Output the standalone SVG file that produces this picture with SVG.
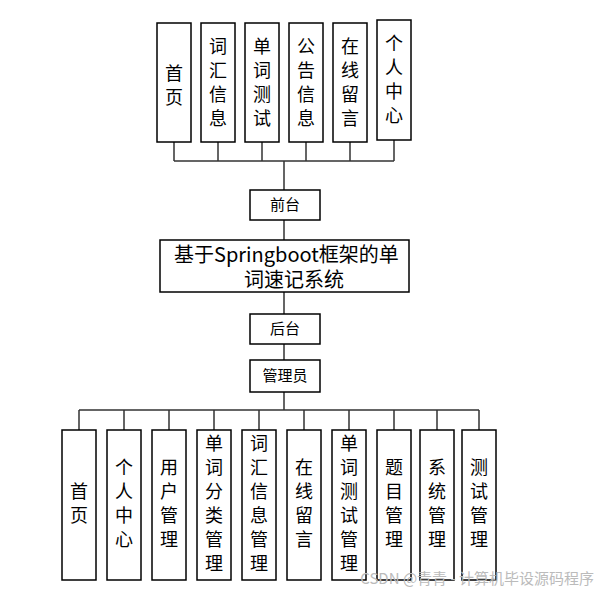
<svg xmlns="http://www.w3.org/2000/svg" width="609" height="596" viewBox="0 0 609 596">
<style>
.b{fill:#fff;stroke:#000;stroke-width:1.5}
.t{font-family:"Noto Sans CJK SC","Liberation Sans",sans-serif;font-size:18px;text-anchor:middle;fill:#000}
.s{font-size:15px}
.c{fill:none;stroke:#333;stroke-width:1.5}
</style>
<rect width="609" height="596" fill="#fff"/>
<g id="connectors" class="c">
<path d="M174 142V161M218 142V161M262 142V161M306 142V161M350 142V161M394 140V161M174 161H394M284 161V190M284 220V240M284 292V314M284 344V360M284 392V410M79 410H479"/>
<path d="M79 410V430M124 410V430M169 410V430M214 410V430M259 410V430M304 410V430M349 410V430M394 410V430M437 410V430M479 410V430"/>
</g>
<g id="n1"><rect class="b" x="157" y="23" width="34" height="119"/><text class="t"><tspan x="174" y="80">首</tspan><tspan x="174" y="104">页</tspan></text></g>
<g id="n2"><rect class="b" x="201" y="23" width="34" height="119"/><text class="t"><tspan x="218" y="53">词</tspan><tspan x="218" y="77">汇</tspan><tspan x="218" y="101">信</tspan><tspan x="218" y="125">息</tspan></text></g>
<g id="n3"><rect class="b" x="245" y="23" width="34" height="119"/><text class="t"><tspan x="262" y="53">单</tspan><tspan x="262" y="77">词</tspan><tspan x="262" y="101">测</tspan><tspan x="262" y="125">试</tspan></text></g>
<g id="n4"><rect class="b" x="289" y="23" width="34" height="119"/><text class="t"><tspan x="306" y="53">公</tspan><tspan x="306" y="77">告</tspan><tspan x="306" y="101">信</tspan><tspan x="306" y="125">息</tspan></text></g>
<g id="n5"><rect class="b" x="333" y="23" width="34" height="119"/><text class="t"><tspan x="350" y="53">在</tspan><tspan x="350" y="77">线</tspan><tspan x="350" y="101">留</tspan><tspan x="350" y="125">言</tspan></text></g>
<g id="n6"><rect class="b" x="377" y="20" width="34" height="120"/><text class="t"><tspan x="394" y="50">个</tspan><tspan x="394" y="74">人</tspan><tspan x="394" y="98">中</tspan><tspan x="394" y="122">心</tspan></text></g>
<g id="qiantai"><rect class="b" x="250" y="190" width="70" height="30"/><text class="t s" x="285" y="210">前台</text></g>
<g id="main"><rect class="b" x="160" y="240" width="249" height="52"/><text class="t" style="font-size:20px;text-anchor:start"><tspan x="174" y="262">基于Springboot框架的单</tspan><tspan x="244" y="287">词速记系统</tspan></text></g>
<g id="houtai"><rect class="b" x="250" y="314" width="70" height="30"/><text class="t s" x="285" y="334">后台</text></g>
<g id="admin"><rect class="b" x="250" y="360" width="70" height="32"/><text class="t s" x="285" y="381">管理员</text></g>
<g id="m1"><rect class="b" x="62" y="430" width="34" height="150"/><text class="t"><tspan x="79" y="498">首</tspan><tspan x="79" y="522">页</tspan></text></g>
<g id="m2"><rect class="b" x="107" y="430" width="34" height="150"/><text class="t"><tspan x="124" y="474">个</tspan><tspan x="124" y="498">人</tspan><tspan x="124" y="522">中</tspan><tspan x="124" y="546">心</tspan></text></g>
<g id="m3"><rect class="b" x="152" y="430" width="34" height="150"/><text class="t"><tspan x="169" y="474">用</tspan><tspan x="169" y="498">户</tspan><tspan x="169" y="522">管</tspan><tspan x="169" y="546">理</tspan></text></g>
<g id="m4"><rect class="b" x="197" y="430" width="34" height="150"/><text class="t"><tspan x="214" y="450">单</tspan><tspan x="214" y="474">词</tspan><tspan x="214" y="498">分</tspan><tspan x="214" y="522">类</tspan><tspan x="214" y="546">管</tspan><tspan x="214" y="570">理</tspan></text></g>
<g id="m5"><rect class="b" x="242" y="430" width="34" height="150"/><text class="t"><tspan x="259" y="450">词</tspan><tspan x="259" y="474">汇</tspan><tspan x="259" y="498">信</tspan><tspan x="259" y="522">息</tspan><tspan x="259" y="546">管</tspan><tspan x="259" y="570">理</tspan></text></g>
<g id="m6"><rect class="b" x="287" y="430" width="34" height="150"/><text class="t"><tspan x="304" y="474">在</tspan><tspan x="304" y="498">线</tspan><tspan x="304" y="522">留</tspan><tspan x="304" y="546">言</tspan></text></g>
<g id="m7"><rect class="b" x="332" y="430" width="34" height="150"/><text class="t"><tspan x="349" y="450">单</tspan><tspan x="349" y="474">词</tspan><tspan x="349" y="498">测</tspan><tspan x="349" y="522">试</tspan><tspan x="349" y="546">管</tspan><tspan x="349" y="570">理</tspan></text></g>
<g id="m8"><rect class="b" x="377" y="430" width="34" height="150"/><text class="t"><tspan x="394" y="474">题</tspan><tspan x="394" y="498">目</tspan><tspan x="394" y="522">管</tspan><tspan x="394" y="546">理</tspan></text></g>
<g id="m9"><rect class="b" x="420" y="430" width="34" height="150"/><text class="t"><tspan x="437" y="474">系</tspan><tspan x="437" y="498">统</tspan><tspan x="437" y="522">管</tspan><tspan x="437" y="546">理</tspan></text></g>
<g id="m10"><rect class="b" x="462" y="430" width="34" height="150"/><text class="t"><tspan x="479" y="474">测</tspan><tspan x="479" y="498">试</tspan><tspan x="479" y="522">管</tspan><tspan x="479" y="546">理</tspan></text></g>
<text x="594" y="584" style="font-family:'Noto Sans CJK SC',sans-serif;font-size:15px;text-anchor:end;fill:#bbb">CSDN @青青 - 计算机毕设源码程序</text>
</svg>
